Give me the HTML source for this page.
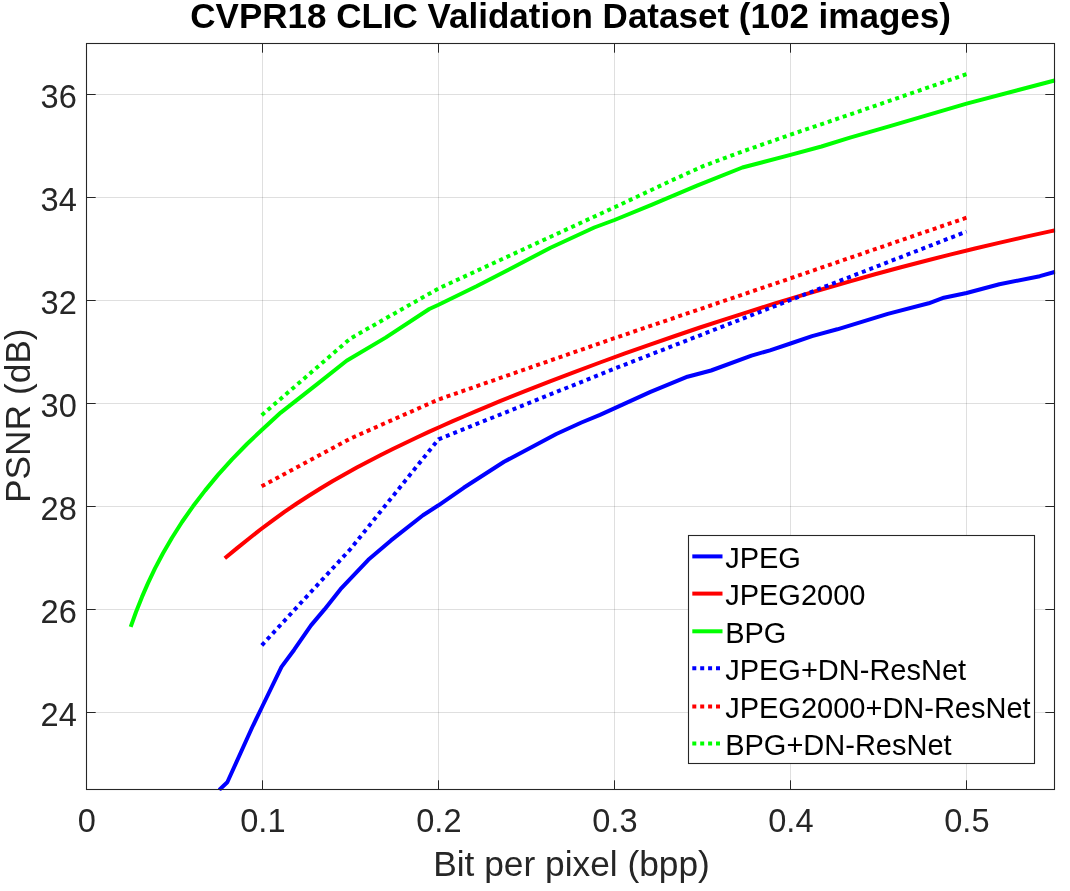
<!DOCTYPE html>
<html lang="en"><head><meta charset="utf-8"><title>CVPR18 CLIC Validation Dataset (102 images)</title>
<style>
html,body{margin:0;padding:0;background:#fff;}
body{width:1070px;height:891px;overflow:hidden;}
svg{display:block;}
text{font-family:"Liberation Sans",sans-serif;}
.tk{font-size:32.6px;fill:#262626;}
.lb{font-size:35.3px;fill:#262626;}
.tt{font-size:35.0px;font-weight:bold;fill:#000;}
.lg{font-size:29.0px;fill:#000;}
.grid line{stroke:#262626;stroke-opacity:0.15;stroke-width:1;}
.ax line{stroke:#262626;stroke-width:1;}
.cv polyline{fill:none;stroke-width:4;stroke-linejoin:round;}
</style></head><body>
<svg width="1070" height="891" viewBox="0 0 1070 891">
<rect x="0" y="0" width="1070" height="891" fill="#fff"/>

<g class="grid">
<line x1="262.5" y1="43.5" x2="262.5" y2="789.5"/>
<line x1="438.5" y1="43.5" x2="438.5" y2="789.5"/>
<line x1="614.5" y1="43.5" x2="614.5" y2="789.5"/>
<line x1="790.5" y1="43.5" x2="790.5" y2="789.5"/>
<line x1="966.5" y1="43.5" x2="966.5" y2="789.5"/>
<line x1="86.5" y1="712.50" x2="1054.5" y2="712.50"/>
<line x1="86.5" y1="609.50" x2="1054.5" y2="609.50"/>
<line x1="86.5" y1="506.50" x2="1054.5" y2="506.50"/>
<line x1="86.5" y1="403.50" x2="1054.5" y2="403.50"/>
<line x1="86.5" y1="300.50" x2="1054.5" y2="300.50"/>
<line x1="86.5" y1="197.50" x2="1054.5" y2="197.50"/>
<line x1="86.5" y1="94.50" x2="1054.5" y2="94.50"/>
</g>
<clipPath id="cp"><rect x="85.5" y="42.5" width="969.7" height="748.3"/></clipPath>
<g class="cv" clip-path="url(#cp)">
<polyline stroke="#0000ff" points="219.2,790.0 227.3,782.3 252.1,727.5 262.5,706.0 281.5,666.9 294.2,649.7 311.0,625.4 324.5,609.4 340.5,589.2 368.3,559.8 391.0,540.4 423.0,515.2 438.5,505.3 463.7,487.8 504.1,461.8 531.0,447.4 556.3,434.0 581.5,422.5 600.0,414.9 614.3,408.4 650.5,391.9 687.5,376.7 711.1,370.5 751.5,355.6 770.0,350.3 790.5,343.5 812.1,336.1 837.3,329.3 887.8,313.9 928.7,303.3 943.9,297.7 966.6,293.0 999.4,284.3 1039.8,276.2 1055.5,271.7"/>
<polyline stroke="#ff0000" points="224.8,558.2 236.8,548.4 248.8,538.7 260.8,529.3 272.8,520.3 284.8,511.7 296.8,503.5 308.8,495.7 320.8,488.2 332.8,481.0 344.8,474.2 356.8,467.5 368.8,461.2 380.8,455.0 392.8,449.0 404.8,443.2 416.8,437.5 428.8,431.9 440.8,426.5 452.8,421.2 464.8,416.0 476.8,410.9 488.8,405.9 500.0,401.2 525.0,391.1 550.0,381.3 575.0,371.8 600.0,362.5 625.0,353.4 650.0,344.6 675.0,336.0 700.0,327.5 725.0,319.3 750.0,311.3 775.0,303.5 800.0,295.9 825.0,288.5 850.0,281.3 875.0,274.3 900.0,267.5 925.0,261.0 950.0,254.6 975.0,248.5 1000.0,242.6 1025.0,236.9 1050.0,231.4 1055.5,230.2"/>
<polyline stroke="#00ff00" points="130.7,626.9 136.0,612.0 142.0,596.9 148.0,583.1 155.0,568.4 163.0,553.2 172.0,537.7 182.0,522.0 193.0,506.3 205.0,490.6 218.0,474.9 232.0,459.4 247.0,444.0 262.6,429.2 280.8,412.6 317.8,383.7 346.6,360.7 385.6,337.6 429.3,309.0 438.6,304.8 476.5,286.3 510.0,269.0 550.5,247.7 594.3,227.5 614.5,220.0 651.5,204.8 697.0,185.7 742.4,167.5 790.5,154.9 821.5,146.5 850.0,137.6 890.0,126.2 966.6,103.6 1055.5,80.2"/>
<polyline stroke="#0000ff" stroke-dasharray="4 3.986" points="261.8,645.3 350.5,549.0 438.5,439.3 614.4,368.7 790.5,300.0 966.5,231.6"/>
<polyline stroke="#ff0000" stroke-dasharray="4 3.911" points="261.6,486.3 350.5,438.5 438.5,399.5 614.4,338.2 790.5,278.3 966.5,217.7"/>
<polyline stroke="#00ff00" stroke-dasharray="4 3.930" points="261.7,415.2 350.5,338.4 438.5,288.5 614.5,207.3 670.0,181.2 703.7,165.9 742.4,151.5 790.5,134.7 850.0,114.5 966.5,74.2"/>
</g>
<g class="ax">
<rect x="86.5" y="43.5" width="968.0" height="746.0" fill="none" stroke="#262626" stroke-width="1.1"/>
<line x1="262.5" y1="789.5" x2="262.5" y2="780.3"/>
<line x1="262.5" y1="43.5" x2="262.5" y2="52.7"/>
<line x1="438.5" y1="789.5" x2="438.5" y2="780.3"/>
<line x1="438.5" y1="43.5" x2="438.5" y2="52.7"/>
<line x1="614.5" y1="789.5" x2="614.5" y2="780.3"/>
<line x1="614.5" y1="43.5" x2="614.5" y2="52.7"/>
<line x1="790.5" y1="789.5" x2="790.5" y2="780.3"/>
<line x1="790.5" y1="43.5" x2="790.5" y2="52.7"/>
<line x1="966.5" y1="789.5" x2="966.5" y2="780.3"/>
<line x1="966.5" y1="43.5" x2="966.5" y2="52.7"/>
<line x1="86.5" y1="712.50" x2="95.7" y2="712.50"/>
<line x1="1054.5" y1="712.50" x2="1045.3" y2="712.50"/>
<line x1="86.5" y1="609.50" x2="95.7" y2="609.50"/>
<line x1="1054.5" y1="609.50" x2="1045.3" y2="609.50"/>
<line x1="86.5" y1="506.50" x2="95.7" y2="506.50"/>
<line x1="1054.5" y1="506.50" x2="1045.3" y2="506.50"/>
<line x1="86.5" y1="403.50" x2="95.7" y2="403.50"/>
<line x1="1054.5" y1="403.50" x2="1045.3" y2="403.50"/>
<line x1="86.5" y1="300.50" x2="95.7" y2="300.50"/>
<line x1="1054.5" y1="300.50" x2="1045.3" y2="300.50"/>
<line x1="86.5" y1="197.50" x2="95.7" y2="197.50"/>
<line x1="1054.5" y1="197.50" x2="1045.3" y2="197.50"/>
<line x1="86.5" y1="94.50" x2="95.7" y2="94.50"/>
<line x1="1054.5" y1="94.50" x2="1045.3" y2="94.50"/>
</g>
<text class="tk" x="86.9" y="832.3" text-anchor="middle">0</text>
<text class="tk" x="262.9" y="832.3" text-anchor="middle">0.1</text>
<text class="tk" x="438.9" y="832.3" text-anchor="middle">0.2</text>
<text class="tk" x="614.9" y="832.3" text-anchor="middle">0.3</text>
<text class="tk" x="790.9" y="832.3" text-anchor="middle">0.4</text>
<text class="tk" x="966.9" y="832.3" text-anchor="middle">0.5</text>
<text class="tk" x="76.8" y="725.9" text-anchor="end">24</text>
<text class="tk" x="76.8" y="622.9" text-anchor="end">26</text>
<text class="tk" x="76.8" y="519.9" text-anchor="end">28</text>
<text class="tk" x="76.8" y="416.9" text-anchor="end">30</text>
<text class="tk" x="76.8" y="313.9" text-anchor="end">32</text>
<text class="tk" x="76.8" y="210.9" text-anchor="end">34</text>
<text class="tk" x="76.8" y="107.9" text-anchor="end">36</text>
<text class="lb" x="571.5" y="875.8" text-anchor="middle">Bit per pixel (bpp)</text>
<text class="lb" transform="translate(29.5,415.7) rotate(-90)" text-anchor="middle">PSNR (dB)</text>
<text class="tt" x="570.6" y="27.9" text-anchor="middle">CVPR18 CLIC Validation Dataset (102 images)</text>
<rect x="688.5" y="535.5" width="346" height="228" fill="#fff" stroke="#262626" stroke-width="1.1"/>
<line x1="692.3" y1="556.40" x2="722.5" y2="556.40" stroke="#0000ff" stroke-width="4"/>
<text class="lg" x="725.2" y="567.80">JPEG</text>
<line x1="692.3" y1="593.60" x2="722.5" y2="593.60" stroke="#ff0000" stroke-width="4"/>
<text class="lg" x="725.2" y="605.00">JPEG2000</text>
<line x1="692.3" y1="631.30" x2="722.5" y2="631.30" stroke="#00ff00" stroke-width="4"/>
<text class="lg" x="725.2" y="642.70">BPG</text>
<line x1="692.3" y1="668.30" x2="722.5" y2="668.30" stroke="#0000ff" stroke-width="4" stroke-dasharray="4 3.9"/>
<text class="lg" x="725.2" y="679.70">JPEG+DN-ResNet</text>
<line x1="692.3" y1="706.40" x2="722.5" y2="706.40" stroke="#ff0000" stroke-width="4" stroke-dasharray="4 3.9"/>
<text class="lg" x="725.2" y="717.80">JPEG2000+DN-ResNet</text>
<line x1="692.3" y1="743.40" x2="722.5" y2="743.40" stroke="#00ff00" stroke-width="4" stroke-dasharray="4 3.9"/>
<text class="lg" x="725.2" y="754.80">BPG+DN-ResNet</text>
</svg></body></html>
